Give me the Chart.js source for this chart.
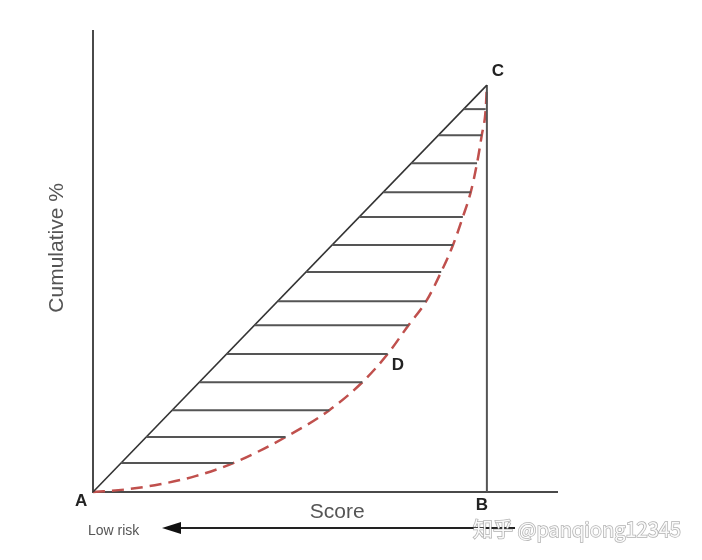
<!DOCTYPE html>
<html>
<head>
<meta charset="utf-8">
<title>Lorenz curve</title>
<script src="https://cdn.jsdelivr.net/npm/chart.js@4.4.1/dist/chart.umd.min.js"></script>
<style>
  html, body { margin: 0; padding: 0; background: #fff; }
  #wrap { width: 702px; height: 560px; }
</style>
</head>
<body>
<div id="wrap"><canvas id="lorenz"></canvas></div>
<script>
// Score axis: A = 0, B = 100. Cumulative % axis: 0 at A, 100 at C.
const diagonalX = [0, 100];
const diagonalY = [0, 100];
const edgeX = [100, 100];
const edgeY = [0, 100];

// red dashed curve A -> D -> C
const curveX = [0, 8.0, 17.0, 26.0, 35.6, 48.9, 60.0, 68.4, 74.8, 80.1, 84.6, 88.4, 91.4, 93.9, 95.9, 97.5, 98.7, 99.7, 100];
const curveY = [0, 0.6, 1.9, 3.9, 7.1, 13.5, 20.1, 27.0, 33.9, 41.0, 46.9, 54.1, 60.7, 67.6, 73.7, 80.8, 87.7, 94.1, 100];

// hatching between the diagonal and the curve
const hatchY = [94.1, 87.7, 80.8, 73.7, 67.6, 60.7, 54.1, 46.9, 41.0, 33.9, 27.0, 20.1, 13.5, 7.1];
const hatchEndX = [99.7, 98.7, 97.5, 95.9, 93.9, 91.4, 88.4, 84.6, 80.1, 74.8, 68.4, 60.0, 48.9, 35.6];

// point labels
const pointNames = ['A', 'B', 'C', 'D'];
const pointX = [-3.0, 98.7, 102.8, 77.4];
const pointY = [-2.2, -3.2, 103.4, 31.2];

const scoreMax = 117.8;
const cumulativeMax = 113.3;

const FONT = '"Liberation Sans", Arial, Helvetica, sans-serif';

function toPoints(xs, ys) {
    return xs.map(function(v, i) { return { x: v, y: ys[i] }; });
}

const datasets = [];

hatchY.forEach(function(h, i) {
    datasets.push({
        data: [{ x: h, y: h }, { x: hatchEndX[i], y: h }],
        borderColor: '#555',
        borderWidth: 2
    });
});

datasets.push({
    data: toPoints(diagonalX, diagonalY),
    borderColor: '#333',
    borderWidth: 1.6
});

datasets.push({
    data: toPoints(edgeX, edgeY),
    borderColor: '#555',
    borderWidth: 2
});

datasets.push({
    data: toPoints(curveX, curveY),
    borderColor: '#c0504d',
    borderWidth: 2.5,
    borderDash: [12, 7],
    cubicInterpolationMode: 'monotone'
});

// labels, axis titles, arrow and watermark
const annotations = {
    id: 'annotations',
    afterDraw(chart) {
        const ctx = chart.ctx;
        const area = chart.chartArea;
        const x = chart.scales.x;
        const y = chart.scales.y;

        ctx.save();
        ctx.textAlign = 'center';
        ctx.textBaseline = 'middle';

        ctx.font = 'bold 17px ' + FONT;
        ctx.fillStyle = '#222';
        pointNames.forEach(function(name, i) {
            ctx.fillText(name, x.getPixelForValue(pointX[i]), y.getPixelForValue(pointY[i]));
        });

        ctx.font = '21px ' + FONT;
        ctx.fillStyle = '#555';
        ctx.fillText('Score', x.getPixelForValue(62), area.bottom + 20);

        ctx.save();
        ctx.translate(area.left - 36, y.getPixelForValue(60));
        ctx.rotate(-Math.PI / 2);
        ctx.fillText('Cumulative %', 0, 0);
        ctx.restore();

        // Low risk arrow
        ctx.font = '14px ' + FONT;
        ctx.fillStyle = '#555';
        ctx.textAlign = 'left';
        ctx.fillText('Low risk', 88, 531);

        ctx.strokeStyle = '#222';
        ctx.lineWidth = 2;
        ctx.beginPath();
        ctx.moveTo(175, 528);
        ctx.lineTo(515, 528);
        ctx.stroke();
        ctx.fillStyle = '#111';
        ctx.beginPath();
        ctx.moveTo(162, 528);
        ctx.lineTo(181, 522);
        ctx.lineTo(181, 534);
        ctx.closePath();
        ctx.fill();

        // watermark
        ctx.font = '20px "Noto Sans CJK SC", "Noto Sans", sans-serif';
        ctx.textAlign = 'left';
        ctx.lineWidth = 1.5;
        ctx.strokeStyle = 'rgba(110, 110, 110, 0.55)';
        ctx.strokeText('知乎 @panqiong12345', 473, 529);
        ctx.fillStyle = '#fafafa';
        ctx.fillText('知乎 @panqiong12345', 473, 529);

        ctx.restore();
    }
};

new Chart(document.getElementById('lorenz'), {
    type: 'scatter',
    data: { datasets: datasets },
    options: {
        responsive: true,
        maintainAspectRatio: false,
        animation: false,
        showLine: true,
        layout: {
            padding: { left: 93, top: 31, right: 145, bottom: 68 }
        },
        elements: {
            point: { radius: 0, hoverRadius: 0 },
            line: { fill: false }
        },
        datasets: {
            scatter: { clip: false }
        },
        plugins: {
            legend: { display: false },
            tooltip: { enabled: false }
        },
        scales: {
            x: {
                type: 'linear',
                min: 0,
                max: scoreMax,
                grid: { display: false, drawTicks: false },
                ticks: { display: false },
                border: { display: true, color: '#4a4a4a', width: 2 }
            },
            y: {
                type: 'linear',
                min: 0,
                max: cumulativeMax,
                grid: { display: false, drawTicks: false },
                ticks: { display: false },
                border: { display: true, color: '#4a4a4a', width: 2 }
            }
        }
    },
    plugins: [annotations]
});
</script>
</body>
</html>
